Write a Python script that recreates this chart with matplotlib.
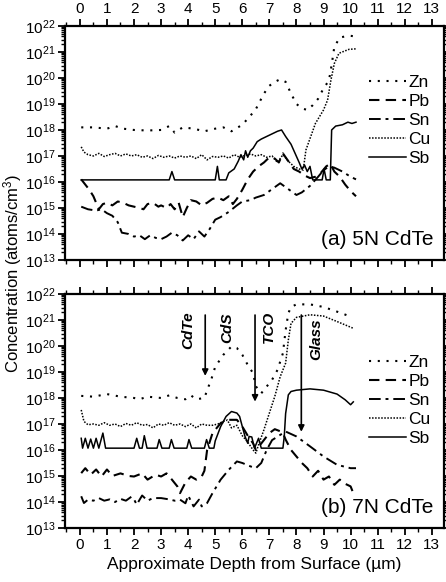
import numpy as np
import matplotlib
matplotlib.use("Agg")
import matplotlib.pyplot as plt
from matplotlib.ticker import MultipleLocator, LogLocator, NullFormatter

plt.rcParams['font.family'] = ['Liberation Sans', 'DejaVu Sans']
plt.rcParams['mathtext.default'] = 'regular'

# depth (um), log10 concentration (atoms/cm3) -- panel (a) 5N CdTe
zn_a = [(0.05, 18.1), (0.5, 18.1), (1.0, 18.05), (1.3, 18.15), (1.6, 18.05), (2.0, 18.0),
        (2.5, 17.98), (3.0, 18.0), (3.3, 18.15), (3.5, 17.9), (3.8, 18.1), (4.2, 18.05),
        (4.6, 17.95), (5.0, 18.05), (5.3, 18.1), (5.6, 17.95), (6.0, 18.2), (6.3, 18.55),
        (6.5, 18.8), (6.8, 19.4), (7.0, 19.7), (7.2, 19.85), (7.4, 19.95), (7.6, 19.85),
        (7.8, 19.4), (8.0, 19.0), (8.2, 18.83), (8.4, 18.77), (8.6, 18.95), (8.8, 19.2),
        (9.0, 19.6), (9.2, 19.9), (9.3, 20.5), (9.4, 21.2), (9.6, 21.55), (9.8, 21.6),
        (10.0, 21.62), (10.15, 21.6)]
pb_a = [(0.05, 16.1), (0.2, 15.9), (0.35, 15.7), (0.5, 15.45), (0.6, 15.2), (0.7, 14.95),
        (0.85, 15.15), (1.0, 15.2), (1.2, 15.1), (1.4, 15.25), (1.6, 15.2), (1.8, 15.1),
        (2.0, 15.05), (2.2, 15.0), (2.35, 14.95), (2.5, 15.15), (2.7, 15.2), (2.9, 15.05),
        (3.0, 15.1), (3.2, 15.0), (3.35, 15.15), (3.5, 14.95), (3.65, 15.2), (3.8, 14.65),
        (3.95, 15.0), (4.1, 15.3), (4.3, 15.25), (4.5, 15.1), (4.7, 15.2), (4.9, 15.35),
        (5.1, 15.4), (5.3, 15.3), (5.5, 15.45), (5.65, 15.15), (5.8, 15.35), (6.0, 15.7),
        (6.2, 16.1), (6.4, 16.4), (6.6, 16.6), (6.8, 16.75), (7.0, 16.95), (7.2, 16.9),
        (7.35, 16.75), (7.5, 17.1), (7.7, 16.8), (7.9, 16.5), (8.1, 16.4), (8.3, 16.25),
        (8.5, 16.15), (8.7, 16.2), (8.9, 16.35), (9.1, 16.6), (9.25, 16.7), (9.4, 16.4),
        (9.6, 16.2), (9.8, 15.9), (10.0, 15.65), (10.2, 15.45)]
sn_a = [(0.05, 15.05), (0.3, 14.95), (0.6, 14.9), (0.8, 14.95), (1.0, 14.8), (1.2, 14.7),
        (1.4, 14.45), (1.55, 14.05), (1.8, 14.0), (2.0, 13.9), (2.2, 13.95), (2.4, 13.8),
        (2.6, 13.95), (2.8, 13.85), (3.0, 13.8), (3.2, 13.9), (3.4, 14.05), (3.6, 13.95),
        (3.8, 13.75), (4.0, 13.95), (4.2, 13.8), (4.4, 14.1), (4.6, 13.9), (4.8, 14.2),
        (5.0, 14.55), (5.2, 14.65), (5.5, 14.85), (5.8, 15.1), (6.0, 15.25), (6.3, 15.3),
        (6.5, 15.4), (6.8, 15.5), (7.0, 15.65), (7.2, 15.8), (7.4, 15.95), (7.6, 15.8),
        (7.8, 15.65), (8.0, 15.5), (8.2, 15.6), (8.5, 15.85), (8.8, 16.2), (9.0, 16.45),
        (9.2, 16.6), (9.4, 16.55), (9.7, 16.4), (10.0, 16.2), (10.2, 16.1)]
cu_a = [(0.05, 17.35), (0.15, 17.15), (0.3, 17.05), (0.5, 17.0), (0.7, 17.1), (0.9, 16.98),
        (1.1, 17.05), (1.3, 17.1), (1.5, 17.0), (1.7, 17.08), (1.9, 17.0), (2.1, 17.05),
        (2.3, 16.95), (2.5, 17.0), (2.7, 16.9), (2.9, 17.02), (3.1, 16.95), (3.3, 17.0),
        (3.5, 16.92), (3.7, 17.0), (3.9, 16.95), (4.1, 17.0), (4.3, 16.9), (4.5, 17.05),
        (4.7, 16.85), (4.9, 16.98), (5.1, 16.95), (5.3, 17.0), (5.5, 16.92), (5.7, 17.05),
        (5.9, 16.95), (6.1, 17.02), (6.3, 17.08), (6.5, 17.0), (6.7, 17.05), (6.9, 16.95),
        (7.1, 17.0), (7.3, 16.75), (7.5, 17.05), (7.7, 16.8), (7.9, 16.6), (8.1, 16.5),
        (8.25, 16.46), (8.35, 17.23), (8.7, 18.25), (9.0, 18.77), (9.15, 19.15), (9.27, 19.9),
        (9.4, 20.56), (9.57, 20.95), (9.94, 21.1), (10.2, 21.12)]
sb_a = [(0.05, 16.08), (3.3, 16.08), (3.4, 16.4), (3.5, 16.08), (5.0, 16.08), (5.08, 16.6),
        (5.15, 16.08), (5.4, 16.08), (5.5, 16.35), (5.7, 16.5), (5.85, 16.8), (5.95, 17.05),
        (6.05, 16.85), (6.12, 17.2), (6.2, 16.95), (6.3, 17.2), (6.4, 17.3), (6.55, 17.55),
        (6.7, 17.65), (6.9, 17.75), (7.1, 17.85), (7.3, 17.95), (7.45, 18.0), (7.6, 17.75),
        (7.8, 17.45), (7.95, 17.1), (8.1, 16.75), (8.2, 16.5), (8.3, 16.65), (8.4, 16.4),
        (8.5, 16.6), (8.6, 16.08), (8.95, 16.08), (9.02, 16.5), (9.1, 16.08), (9.25, 16.08),
        (9.3, 18.0), (9.45, 18.15), (9.7, 18.2), (9.9, 18.3), (10.05, 18.25), (10.2, 18.3)]

# panel (b) 7N CdTe
zn_b = [(0.05, 18.08), (0.5, 18.05), (1.0, 18.15), (1.5, 18.05), (2.0, 18.0), (2.2, 17.95),
        (2.5, 18.05), (3.0, 18.0), (3.3, 18.1), (3.6, 18.0), (3.9, 17.95), (4.1, 18.1),
        (4.3, 17.95), (4.6, 18.0), (4.7, 18.3), (4.85, 18.7), (5.0, 19.2), (5.3, 19.66),
        (5.6, 19.98), (5.8, 19.92), (6.0, 19.66), (6.2, 19.27), (6.4, 18.95), (6.5, 18.45),
        (6.7, 18.18), (6.9, 18.44), (7.1, 18.7), (7.3, 19.08), (7.5, 19.72), (7.6, 20.6),
        (7.7, 21.26), (7.8, 21.5), (8.0, 21.6), (8.5, 21.6), (9.0, 21.5), (9.5, 21.32),
        (10.0, 21.13)]
pb_b = [(0.05, 15.11), (0.2, 15.3), (0.4, 15.05), (0.6, 15.25), (0.8, 14.98), (1.0, 15.25),
        (1.2, 15.0), (1.5, 15.1), (1.8, 15.0), (2.0, 14.98), (2.3, 15.1), (2.5, 14.86),
        (2.8, 15.05), (3.0, 14.98), (3.2, 15.1), (3.4, 14.86), (3.6, 14.6), (3.7, 14.34),
        (3.9, 14.75), (4.1, 14.98), (4.3, 14.86), (4.5, 14.98), (4.6, 15.2), (4.7, 16.0),
        (4.9, 16.65), (5.2, 17.03), (5.5, 17.16), (5.8, 17.16), (6.0, 16.9), (6.2, 16.55),
        (6.4, 16.25), (6.5, 16.0), (6.7, 16.25), (7.0, 16.65), (7.2, 16.8), (7.4, 16.72),
        (7.5, 16.65), (7.6, 16.4), (7.8, 16.0), (8.0, 15.75), (8.2, 15.5), (8.4, 15.3),
        (8.6, 14.98), (8.8, 15.2), (9.0, 14.86), (9.2, 14.98), (9.4, 14.66), (9.6, 14.86),
        (9.8, 14.7), (10.0, 14.6), (10.1, 14.34)]
sn_b = [(0.05, 14.22), (0.15, 13.96), (0.3, 14.09), (0.5, 14.05), (0.7, 14.15), (0.9, 14.05),
        (1.1, 14.1), (1.3, 14.0), (1.5, 14.12), (1.7, 14.05), (1.9, 14.2), (2.0, 14.1),
        (2.1, 13.9), (2.3, 14.25), (2.5, 14.05), (2.7, 14.15), (3.0, 14.15), (3.3, 14.1),
        (3.5, 14.05), (3.7, 14.09), (3.9, 13.95), (4.0, 14.25), (4.2, 13.83), (4.4, 14.09),
        (4.5, 13.83), (4.7, 13.96), (4.9, 14.34), (5.2, 14.86), (5.5, 15.24), (5.8, 15.56),
        (6.0, 15.5), (6.3, 15.37), (6.5, 15.3), (6.7, 15.5), (6.9, 16.0), (7.1, 16.38),
        (7.4, 16.58), (7.6, 16.71), (8.0, 16.52), (8.5, 16.14), (9.0, 15.75), (9.5, 15.43),
        (10.0, 15.3), (10.2, 15.3)]
cu_b = [(0.05, 17.54), (0.15, 17.1), (0.3, 16.97), (0.5, 17.0), (0.7, 16.95), (0.9, 17.05),
        (1.1, 16.95), (1.3, 17.0), (1.5, 16.9), (1.7, 17.02), (1.9, 16.95), (2.1, 17.05),
        (2.3, 16.95), (2.5, 16.98), (2.7, 16.85), (2.9, 17.0), (3.1, 16.95), (3.3, 17.05),
        (3.5, 16.95), (3.7, 17.0), (3.9, 16.9), (4.1, 17.0), (4.3, 16.85), (4.5, 17.0),
        (4.7, 16.95), (4.9, 16.95), (5.1, 17.0), (5.3, 17.1), (5.45, 17.15), (5.6, 16.85),
        (5.8, 16.95), (6.0, 16.55), (6.2, 16.3), (6.4, 16.0), (6.5, 15.88), (6.6, 16.2),
        (6.8, 16.78), (7.0, 17.42), (7.2, 18.06), (7.4, 18.82), (7.6, 19.34), (7.7, 20.23),
        (7.8, 20.87), (8.0, 21.1), (8.5, 21.2), (9.0, 21.15), (9.5, 20.94), (10.1, 20.68)]
sb_b = [(0.05, 16.45), (0.1, 16.07), (0.2, 16.45), (0.3, 16.07), (0.4, 16.42), (0.5, 16.07),
        (0.6, 16.45), (0.7, 16.07), (0.85, 16.65), (0.95, 16.07), (2.0, 16.07), (2.1, 16.45),
        (2.2, 16.07), (2.3, 16.07), (2.38, 16.55), (2.48, 16.07), (2.85, 16.07), (2.93, 16.4),
        (3.03, 16.07), (3.3, 16.07), (3.38, 16.4), (3.48, 16.07), (3.95, 16.07), (4.03, 16.4),
        (4.13, 16.07), (4.6, 16.07), (4.68, 16.4), (4.78, 16.07), (4.95, 16.07), (5.0, 16.35),
        (5.2, 16.9), (5.4, 17.29), (5.6, 17.48), (5.8, 17.42), (5.9, 17.29), (6.0, 16.9),
        (6.1, 16.52), (6.2, 16.26), (6.25, 16.52), (6.35, 16.5), (6.45, 16.07), (6.6, 16.45),
        (6.7, 16.07), (7.5, 16.07), (7.55, 16.52), (7.6, 17.4), (7.7, 18.12), (7.8, 18.25),
        (8.0, 18.3), (8.5, 18.35), (9.0, 18.3), (9.5, 18.15), (9.8, 17.93), (10.0, 17.74),
        (10.1, 17.85)]

# layer markers in panel (b): label, arrow x, arrow tip (log10), label x, label y (log10)
layer_names = ["CdTe", "CdS", "TCO", "Glass"]
arrow_x = [4.63, None, 6.47, 8.18]
arrow_tip = [18.85, None, 17.86, 16.70]
label_x = [4.01, 5.45, 7.0, 8.72]
label_y = [20.62, 20.69, 20.72, 20.27]

elements = ["Zn", "Pb", "Sn", "Cu", "Sb"]
styles = {
    "Zn": dict(ls=(0, (1, 3.2)), lw=1.5),
    "Pb": dict(ls=(0, (5, 3)), lw=1.5),
    "Sn": dict(ls=(0, (6, 2.5, 1.5, 2.5)), lw=1.4),
    "Cu": dict(ls=(0, (1, 1)), lw=1.1),
    "Sb": dict(ls="-", lw=1.1),
}

fig = plt.figure(figsize=(4.46, 5.82), dpi=100)
ax_a = fig.add_axes([0.1457, 0.5533, 0.8498, 0.4021])
ax_b = fig.add_axes([0.1457, 0.0928, 0.8498, 0.4021])

panels = [
    (ax_a, [zn_a, pb_a, sn_a, cu_a, sb_a], "(a) 5N CdTe", 0.79),
    (ax_b, [zn_b, pb_b, sn_b, cu_b, sb_b], "(b) 7N CdTe", 0.74),
]

for ax, series, title, leg_y in panels:
    for name, data in zip(elements, series):
        d = np.array(data)
        ax.plot(d[:, 0], 10 ** d[:, 1], color="black", label=name, **styles[name])
    ax.set_yscale("log")
    ax.set_xlim(-0.55, 13.45)
    ax.set_ylim(1e13, 1e22)
    ax.xaxis.set_major_locator(MultipleLocator(1))
    ax.xaxis.set_minor_locator(MultipleLocator(0.5))
    ax.yaxis.set_major_locator(LogLocator(base=10, numticks=20))
    ax.yaxis.set_minor_locator(LogLocator(base=10, subs=np.arange(2, 10), numticks=20))
    ax.yaxis.set_minor_formatter(NullFormatter())
    for s in ax.spines.values():
        s.set_linewidth(1.6)
    ax.tick_params(which="both", top=True, right=True, direction="out", labelsize=11)
    ax.tick_params(which="major", length=5, width=1.3)
    ax.tick_params(which="minor", length=3, width=1.0)
    ax.tick_params(axis="y", which="both", pad=2)
    ax.tick_params(axis="x", which="both", pad=2)
    ax.legend(loc="upper right", bbox_to_anchor=(0.965, leg_y), frameon=False,
              fontsize=12.5, handlelength=2.15, handletextpad=0.15,
              labelspacing=0.22, borderpad=0, borderaxespad=0)
    ax.text(0.972, 0.064, title, transform=ax.transAxes, ha="right", va="baseline",
            fontsize=15)

ax_a.tick_params(axis="x", labeltop=True, labelbottom=False)
ax_b.tick_params(axis="x", labeltop=False, labelbottom=True)
ax_b.set_xlabel("Approximate Depth from Surface (\u00b5m)", fontsize=12.5, labelpad=4)

for name, xa, tip, lx, ly in zip(layer_names, arrow_x, arrow_tip, label_x, label_y):
    if xa is not None:
        ax_b.annotate("", xy=(xa, 10 ** tip), xytext=(xa, 10 ** 21.19),
                      arrowprops=dict(arrowstyle="-|>", color="black", lw=1.2,
                                      mutation_scale=9, shrinkA=0, shrinkB=0))
    ax_b.text(lx, 10 ** ly, name, rotation=90, ha="center", va="center",
              fontsize=11, fontweight="bold", fontstyle="italic")

fig.text(0.028, 0.531, "Concentration (atoms/cm$^3$)", rotation=90, ha="center",
         va="center", fontsize=12)

fig.savefig("out.png", dpi=100)
